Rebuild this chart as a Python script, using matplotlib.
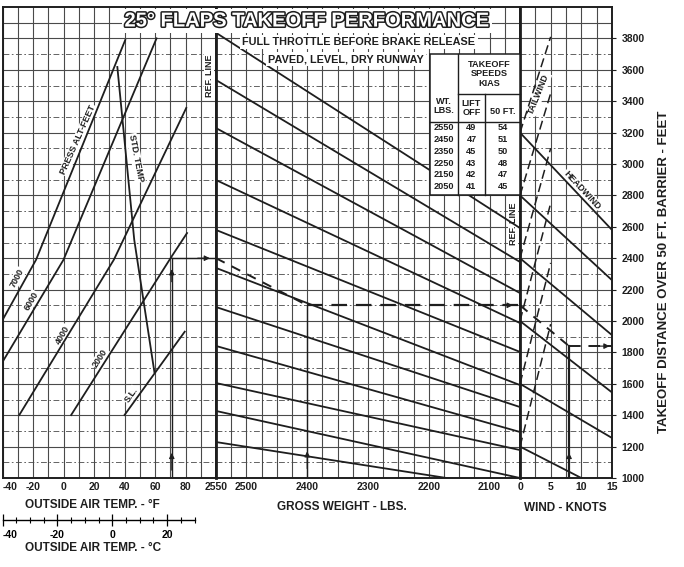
import matplotlib
matplotlib.use('Agg')
import matplotlib.pyplot as plt
import matplotlib.patheffects as pe
import numpy as np

W_PX, H_PX = 684, 567
INK = '#1e1e1e'
GRID = '#4a4a4a'
plt.rcParams['font.family'] = ['Liberation Sans', 'DejaVu Sans']
plt.rcParams['font.weight'] = 'bold'

# ---- values ----
dist_ticks = list(range(1000, 3801, 200))
oat_ticks = [-40, -20, 0, 20, 40, 60, 80]
wt_ticks = [2550, 2500, 2400, 2300, 2200, 2100]
wind_ticks = [0, 5, 10, 15]
degc_ticks = [-40, -20, 0, 20]

# pressure altitude lines (OAT degF, distance scale)
alt_names = ['7000', '6000', '4000', '2000', 'S.L.']
alt_oat = [[-40, -18, 40.5], [-40, 0, 61], [-29, 33, 80.5], [5, 70.7, 81], [40, 79.5]]
alt_dist = [[2006, 2390, 3790], [1739, 2390, 3800], [1401, 2390, 3357], [1401, 2408, 2560], [1401, 1932]]
std_oat = [35.3, 46.4, 59.6]
std_dist = [3618, 2516, 1675]

# gross weight guide lines: distance at 2550 lbs and at 2050 lbs
wt_start = [3836, 3535, 3229, 2898, 2580, 2338, 2089, 1841, 1605, 1427, 1229]
wt_end = [2592, 2376, 2178, 1987, 1803, 1592, 1452, 1293, 1178, 1000, 927]

# wind guide lines: distance at 0 kt, at 15 kt headwind, at 5 kt tailwind
wind_start = [3200, 2800, 2400, 2000, 1600, 1200]
head_end = [2580, 2260, 1910, 1545, 1255, 900]
tail_end = [3810, 3450, 3100, 2750, 2370, 1980]

# takeoff speeds table
tbl_wt = ['2550', '2450', '2350', '2250', '2150', '2050']
tbl_lift = ['49', '47', '45', '43', '42', '41']
tbl_50 = ['54', '51', '50', '48', '47', '45']

# worked example
ex_oat, ex_wt, ex_wind = 71, 2400, 8
ex_d1, ex_d2, ex_d3 = 2400, 2100, 1840


def P(x, y):
    return (x / W_PX, 1 - y / H_PX)


def rect(x0, x1, y0=7, y1=478):
    return [x0 / W_PX, 1 - y1 / H_PX, (x1 - x0) / W_PX, (y1 - y0) / H_PX]


def frame(ax, xlim, xgrid):
    ax.set_xlim(*xlim)
    ax.set_ylim(1000, 4000)
    for d in range(1100, 4000, 100):
        if d % 200 == 0 or d == 3900:
            ax.axhline(d, color=GRID, lw=0.8, zorder=1)
        else:
            ax.axhline(d, color=GRID, lw=0.6, dashes=(7, 3, 2, 3), zorder=1)
    for v in xgrid:
        ax.axvline(v, color=GRID, lw=0.8, zorder=1)
    for s in ax.spines.values():
        s.set_linewidth(1.4)
        s.set_color(INK)
    ax.tick_params(axis='both', length=0, labelsize=7.5, pad=3, colors=INK)
    ax.set_yticks([])


def arrow(ax, x0, y0, x1, y1):
    ax.annotate('', xy=(x1, y1), xytext=(x0, y0),
                arrowprops=dict(arrowstyle='-|>', color=INK, lw=0.8,
                                mutation_scale=8, shrinkA=0, shrinkB=0), zorder=4)


fig = plt.figure(figsize=(6.84, 5.67), dpi=100)
fig.patch.set_facecolor('white')

axL = fig.add_axes(rect(2.5, 216))
axM = fig.add_axes(rect(216, 520))
axR = fig.add_axes(rect(520, 612))

frame(axL, (-40, 100), range(-40, 101, 10))
frame(axM, (2550, 2050), np.arange(2050, 2551, 25))
frame(axR, (0, 15), np.arange(0, 15.1, 2.5))

axL.set_xticks(oat_ticks)
axL.set_xticklabels([str(t) for t in oat_ticks])
axL.get_xticklabels()[0].set_ha('left')
axM.set_xticks(wt_ticks)
axM.set_xticklabels([str(t) for t in wt_ticks])
axR.set_xticks(wind_ticks)
axR.set_xticklabels([str(t) for t in wind_ticks])
axR.yaxis.tick_right()
axR.set_yticks(dist_ticks)
axR.set_yticklabels([str(t) for t in dist_ticks])
axR.tick_params(axis='y', length=3, width=0.8, pad=4, labelsize=7.5)
axM.spines['left'].set_linewidth(2.0)
axR.spines['left'].set_linewidth(2.0)

# left panel: pressure altitude and standard temperature
for oat, dist in zip(alt_oat, alt_dist):
    axL.plot(oat, dist, color=INK, lw=1.3, zorder=3)
axL.plot(std_oat, std_dist, color=INK, lw=1.3, zorder=3)

lab = dict(transform=fig.transFigure, ha='center', va='center', fontsize=6.5,
           color=INK, zorder=2,
           bbox=dict(facecolor='white', edgecolor='none', pad=0.6))
for name, xy, rot in zip(alt_names, [(17, 278), (31, 301), (63, 335), (100, 358), (131, 395)],
                         [62, 60, 60, 57, 55]):
    axL.text(*P(*xy), name, rotation=rot, **lab)
axL.text(*P(78, 140), 'PRESS ALT-FEET', rotation=66, **lab)
axL.text(*P(136, 158), 'STD. TEMP', rotation=-79, **lab)

# middle panel: weight lines
for s, e in zip(wt_start, wt_end):
    axM.plot([2550, 2050], [s, e], color=INK, lw=1.3, zorder=3)
axM.text(*P(209, 76), 'REF. LINE', rotation=90, **lab)
axM.text(*P(513, 224), 'REF. LINE', rotation=90, **lab)

# right panel: wind lines
for s, e in zip(wind_start, head_end):
    axR.plot([0, 15], [s, e], color=INK, lw=1.3, zorder=3)
for s, e in zip(wind_start, tail_end):
    axR.plot([0, 5], [s, e], color=INK, lw=1.1, dashes=(6, 3), zorder=3)
axR.text(*P(539, 94), 'TAILWIND', rotation=68, **lab)
axR.text(*P(582, 190), 'HEADWIND', rotation=-47, **lab)

# worked example
axL.plot([ex_oat, ex_oat], [1000, ex_d1], color=INK, lw=1.0, zorder=3)
axL.plot([ex_oat, 100], [ex_d1, ex_d1], color=INK, lw=1.0, zorder=3)
arrow(axL, ex_oat, 1050, ex_oat, 1160)
arrow(axL, ex_oat, 2250, ex_oat, 2330)
arrow(axL, 88, ex_d1, 96, ex_d1)
axM.plot([2550, ex_wt], [ex_d1, ex_d2], color=INK, lw=1.4, dashes=(5, 4), zorder=3)
axM.plot([ex_wt, 2050], [ex_d2, ex_d2], color=INK, lw=1.6, dashes=(7, 4), zorder=3)
axM.plot([ex_wt, ex_wt], [1000, ex_d2], color=INK, lw=1.0, zorder=3)
arrow(axM, ex_wt, 1060, ex_wt, 1170)
arrow(axM, 2080, ex_d2, 2062, ex_d2)
axR.plot([0, ex_wind], [ex_d2, ex_d3], color=INK, lw=1.4, dashes=(5, 4), zorder=3)
axR.plot([ex_wind, 15], [ex_d3, ex_d3], color=INK, lw=1.4, dashes=(6, 4), zorder=3)
axR.plot([ex_wind, ex_wind], [1000, ex_d3], color=INK, lw=1.6, zorder=3)
arrow(axR, ex_wind, 1080, ex_wind, 1160)
arrow(axR, 13, ex_d3, 14.6, ex_d3)

# celsius scale under the left panel
axC = fig.add_axes(rect(2.5, 216, 505, 520))
axC.set_xlim(-40, (100 - 32) / 1.8)
axC.set_ylim(0, 1)
axC.patch.set_alpha(0)
for side in ['top', 'left', 'right']:
    axC.spines[side].set_visible(False)
axC.spines['bottom'].set_bounds(-40, 30)
axC.spines['bottom'].set_linewidth(1.0)
axC.set_yticks([])
axC.set_xticks(degc_ticks)
axC.set_xticklabels([str(t) for t in degc_ticks])
axC.get_xticklabels()[0].set_ha('left')
axC.set_xticks(np.arange(-40, 31, 5), minor=True)
axC.tick_params(axis='x', which='major', direction='inout', length=8, width=0.9, labelsize=7.5, pad=3)
axC.tick_params(axis='x', which='minor', direction='inout', length=5, width=0.8)

# axis titles
ttl = dict(ha='center', va='center', color=INK, fontsize=8.5)
fig.text(*P(92, 505), 'OUTSIDE AIR TEMP. - °F', **ttl)
fig.text(*P(342, 507), 'GROSS WEIGHT - LBS.', **ttl)
fig.text(*P(565, 508), 'WIND - KNOTS', **ttl)
fig.text(*P(93, 548), 'OUTSIDE AIR TEMP. - °C', **ttl)
fig.text(*P(664, 272), 'TAKEOFF DISTANCE OVER 50 FT. BARRIER - FEET', rotation=90,
         ha='center', va='center', color=INK, fontsize=9.5)

# overlay in pixel units for title boxes and the speed table
ov = fig.add_axes([0, 0, 1, 1], zorder=10)
ov.set_xlim(0, W_PX)
ov.set_ylim(H_PX, 0)
ov.axis('off')
ov.patch.set_alpha(0)

ov.text(307, 21, '25° FLAPS TAKEOFF PERFORMANCE', ha='center', va='center', fontsize=14.5,
        color='white', path_effects=[pe.withStroke(linewidth=2.2, foreground=INK)],
        bbox=dict(facecolor='white', edgecolor='none', pad=2))
ov.text(359, 42, 'FULL THROTTLE BEFORE BRAKE RELEASE', ha='center', va='center', fontsize=7.8,
        color=INK, bbox=dict(facecolor='white', edgecolor='none', pad=1.5))
ov.text(346, 59, 'PAVED, LEVEL, DRY RUNWAY', ha='center', va='center', fontsize=7.8,
        color=INK, bbox=dict(facecolor='white', edgecolor='none', pad=1.5))

tx0, tx1, tx2, tx3 = 430, 458, 485, 520
ty0, ty1, ty2, ty3 = 54, 94, 122, 195
ov.add_patch(plt.Rectangle((tx0, ty0), tx3 - tx0, ty3 - ty0, facecolor='white',
                           edgecolor=INK, lw=1.1))
ov.plot([tx1, tx1], [ty0, ty3], color=INK, lw=1.0)
ov.plot([tx2, tx2], [ty1, ty3], color=INK, lw=1.0)
ov.plot([tx1, tx3], [ty1, ty1], color=INK, lw=1.0)
ov.plot([tx0, tx3], [ty2, ty2], color=INK, lw=1.0)
cell = dict(ha='center', va='center', fontsize=6.6, color=INK)
ov.text((tx1 + tx3) / 2, 74, 'TAKEOFF\nSPEEDS\nKIAS', linespacing=1.05, **cell)
ov.text((tx0 + tx1) / 2, 106, 'WT.\nLBS.', linespacing=1.0, **cell)
ov.text((tx1 + tx2) / 2, 108, 'LIFT\nOFF', linespacing=1.0, **cell)
ov.text((tx2 + tx3) / 2, 112, '50 FT.', **cell)
for i, (w, l, f) in enumerate(zip(tbl_wt, tbl_lift, tbl_50)):
    yy = 128 + i * 11.7
    ov.text((tx0 + tx1) / 2, yy, w, **cell)
    ov.text((tx1 + tx2) / 2, yy, l, **cell)
    ov.text((tx2 + tx3) / 2, yy, f, **cell)

fig.savefig('out.png', dpi=100)
